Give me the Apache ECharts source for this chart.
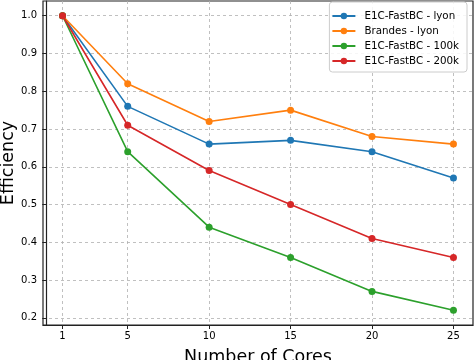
<!DOCTYPE html>
<html>
<head>
<meta charset="utf-8">
<script src="https://cdn.jsdelivr.net/npm/echarts@6/dist/echarts.min.js"></script>
<style>
  html, body { margin: 0; padding: 0; background: #fff; }
  #chart { width: 474px; height: 360px; }
</style>
</head>
<body>
<div id="chart"></div>
<script>
const cores = [1, 5, 10, 15, 20, 25];
const fastbcLyon = [1.0, 0.76, 0.66, 0.67, 0.64, 0.57];
const brandesLyon = [1.0, 0.82, 0.72, 0.75, 0.68, 0.66];
const fastbc100k = [1.0, 0.64, 0.44, 0.36, 0.27, 0.22];
const fastbc200k = [1.0, 0.71, 0.59, 0.50, 0.41, 0.36];
const yTicks = [0.2, 0.3, 0.4, 0.5, 0.6, 0.7, 0.8, 0.9, 1.0];

const names = ['E1C-FastBC - lyon', 'Brandes - lyon', 'E1C-FastBC - 100k', 'E1C-FastBC - 200k'];
const colors = ['#1f77b4', '#ff7f0e', '#2ca02c', '#d62728'];
const values = [fastbcLyon, brandesLyon, fastbc100k, fastbc200k];

const font = 'DejaVu Sans';
const chart = echarts.init(document.getElementById('chart'));

const gridLine = { show: true, lineStyle: { color: '#b0b0b0', type: [3, 3], width: 0.8 } };

const option = {
  animation: false,
  textStyle: { fontFamily: font },
  grid: {
    left: 43, right: 1, top: 1, bottom: 35,
    outerBoundsMode: 'none', containLabel: false,
    show: true, borderColor: '#222', borderWidth: 1.2
  },
  legend: {
    orient: 'vertical',
    right: 7,
    top: 2,
    data: names,
    itemWidth: 23,
    itemHeight: 8,
    itemGap: 5,
    padding: [9, 8, 6, 2],
    borderColor: '#cccccc',
    borderWidth: 1,
    borderRadius: 3,
    backgroundColor: 'rgba(255,255,255,0.85)',
    textStyle: { fontFamily: font, fontSize: 10.3, color: '#000', padding: [0, 0, 0, 4] }
  },
  xAxis: {
    type: 'value',
    min: -0.2,
    max: 26.2,
    name: 'Number of Cores',
    nameLocation: 'middle',
    nameGap: 23,
    nameMoveOverlap: false,
    nameTextStyle: { fontFamily: font, fontSize: 17.5, color: '#000' },
    axisLine: { show: true, lineStyle: { color: '#222', width: 1.2 } },
    axisTick: { show: true, customValues: cores, length: 4, lineStyle: { color: '#222' } },
    axisLabel: { customValues: cores, fontFamily: font, fontSize: 10, color: '#000', margin: 6 },
    splitLine: gridLine
  },
  yAxis: {
    type: 'value',
    min: 0.181,
    max: 1.039,
    name: 'Efficiency',
    nameLocation: 'middle',
    nameGap: 26,
    nameMoveOverlap: false,
    nameTextStyle: { fontFamily: font, fontSize: 17.5, color: '#000' },
    axisLine: { show: true, lineStyle: { color: '#222', width: 1.2 } },
    axisTick: { show: true, customValues: yTicks, length: 4, lineStyle: { color: '#222' } },
    axisLabel: {
      customValues: yTicks, fontFamily: font, fontSize: 10, color: '#000', margin: 6,
      formatter: v => v.toFixed(1)
    },
    splitLine: gridLine
  },
  series: names.map((n, i) => ({
    name: n,
    type: 'line',
    data: cores.map((c, j) => [c, values[i][j]]),
    symbol: 'circle',
    symbolSize: 7,
    itemStyle: { color: colors[i] },
    lineStyle: { color: colors[i], width: 1.6 },
    z: 2 + i
  }))
};

chart.setOption(option);
</script>
</body>
</html>
